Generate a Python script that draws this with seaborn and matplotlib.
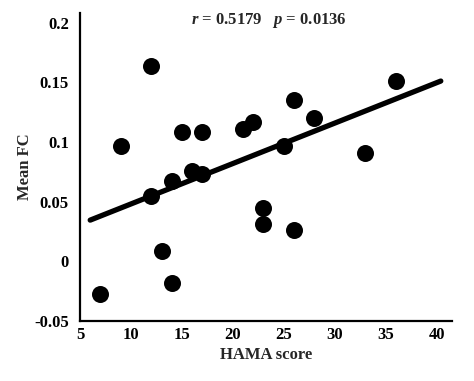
import numpy as np
import pandas as pd
import matplotlib
matplotlib.use("Agg")
import matplotlib.pyplot as plt
import seaborn as sns
from matplotlib.ticker import FuncFormatter

hama = [7, 9, 12, 12, 13, 14, 14, 15, 16, 17, 17, 21, 22, 23, 23, 25, 26, 26, 28, 33, 36]
mean_fc = [-0.027, 0.097, 0.164, 0.055, 0.009, -0.018, 0.067, 0.108, 0.076, 0.108, 0.073,
           0.111, 0.117, 0.045, 0.031, 0.097, 0.135, 0.026, 0.120, 0.091, 0.151]
fit_x = [6, 40.4]
fit_y = [0.0345, 0.151]
x_ticks = [5, 10, 15, 20, 25, 30, 35, 40]
y_ticks = [-0.05, 0, 0.05, 0.1, 0.15, 0.2]
stats_text = ["0.5179", "0.0136"]

df = pd.DataFrame({"HAMA score": hama, "Mean FC": mean_fc})

sns.set_theme(style="white")
plt.rcParams["font.family"] = ["Liberation Serif", "DejaVu Serif"]
plt.rcParams["font.weight"] = "bold"
plt.rcParams["mathtext.fontset"] = "custom"
plt.rcParams["mathtext.it"] = "Liberation Serif:italic:bold"
plt.rcParams["mathtext.rm"] = "Liberation Serif:bold"
plt.rcParams["mathtext.bf"] = "Liberation Serif:bold"

fig = plt.figure(figsize=(4.74, 3.81), dpi=100)
ax = fig.add_axes([80 / 474, 1 - 321 / 381, (452 - 80) / 474, (321 - 13) / 381])

sns.scatterplot(data=df, x="HAMA score", y="Mean FC", ax=ax, color="black",
                s=150, edgecolor="black", linewidth=0, zorder=3)

sns.lineplot(x=fit_x, y=fit_y, ax=ax, color="black", linewidth=3.8, zorder=2)

ax.set_xlim(5, 41.5)
ax.set_ylim(-0.05, 0.208)
ax.set_xticks(x_ticks)
ax.set_yticks(y_ticks)
ax.yaxis.set_major_formatter(FuncFormatter(lambda v, p: "%g" % round(v, 3)))

for s in ["top", "right"]:
    ax.spines[s].set_visible(False)
for s in ["left", "bottom"]:
    ax.spines[s].set_linewidth(1.6)
    ax.spines[s].set_color("black")

ax.tick_params(axis="x", direction="in", length=5, width=1.6, labelsize=12, pad=4, colors="black")
ax.tick_params(axis="y", direction="out", length=5, width=1.6, labelsize=12, pad=3, colors="black")
for lab in ax.get_xticklabels() + ax.get_yticklabels():
    lab.set_fontweight("bold")

ax.set_xlabel("HAMA score", fontsize=12, fontweight="bold", labelpad=3)
ax.set_ylabel("Mean FC", fontsize=12, fontweight="bold", labelpad=1)

fig.text(269 / 474, 1 - 21 / 381,
         "$r$ = " + stats_text[0] + "   $p$ = " + stats_text[1],
         ha="center", va="center", fontsize=12, fontweight="bold")

fig.savefig("out.png", dpi=100, facecolor="white")
